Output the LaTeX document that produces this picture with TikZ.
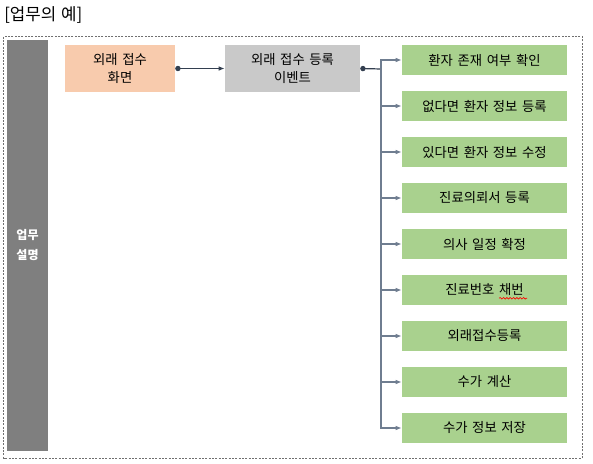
\documentclass[tikz,border=0pt]{standalone}
\usepackage{fontspec}
\setmainfont{Noto Sans CJK KR}
\usetikzlibrary{arrows.meta,decorations.pathmorphing}
\definecolor{peach}{HTML}{F8CBAD}
\definecolor{boxgray}{HTML}{C9C9C9}
\definecolor{boxgreen}{HTML}{A9D18E}
\definecolor{bargray}{HTML}{7F7F7F}
\definecolor{lineDark}{HTML}{333F50}
\definecolor{lineBranch}{HTML}{6F7D90}
\definecolor{frameGray}{HTML}{707070}
\newcommand\myboxfont{\fontsize{10pt}{13pt}\selectfont\spaceskip=3.5pt\relax}
\newcommand\mytitlefont{\fontsize{12.6pt}{14pt}\selectfont\spaceskip=3.6pt\relax}
\newcommand\mybarfont{\fontsize{9pt}{15pt}\selectfont\bfseries}
\begin{document}
\begin{tikzpicture}[x=0.75pt,y=-0.75pt,
  every node/.style={font=\myboxfont, text=black, inner sep=0pt},
  srcbox/.style={fill=peach, minimum width=82.5pt, minimum height=35.25pt, align=center},
  evbox/.style={fill=boxgray, minimum width=101.25pt, minimum height=35.25pt, align=center},
  taskbox/.style={fill=boxgreen, minimum width=123.75pt, minimum height=22.5pt},
  sidebar/.style={fill=bargray, minimum width=30.75pt, minimum height=308.25pt, align=center,
     font=\mybarfont, text=white},
  mainconn/.style={draw=lineDark, line width=0.9pt, {Circle[length=4pt]}-{Latex[length=4.5pt,width=3.5pt]}},
  trunk/.style={draw=lineDark, line width=0.9pt, {Circle[length=4pt]}-},
  branch/.style={draw=lineBranch, line width=0.9pt, -{Latex[length=4.5pt,width=3.5pt]}}
]
\useasboundingbox (0,0) rectangle (593,464);
\node[anchor=west, font=\mytitlefont] (title) at (4,15) {[업무의 예]};
\draw[frameGray, line width=0.6pt, dash pattern=on 1.5pt off 1pt] (3.5,36.5) rectangle (582,458);
\node[sidebar] (bar) at (27.5,245.5) {업무\\설명};
\node[srcbox] (src) at (120,68.5) {외래 접수\\화면};
\node[evbox] (ev) at (292.5,68.5) {외래 접수 등록\\이벤트};
\node[taskbox] (g1) at (484.5,60) {환자 존재 여부 확인};
\node[taskbox] (g2) at (484.5,106) {없다면 환자 정보 등록};
\node[taskbox] (g3) at (484.5,152) {있다면 환자 정보 수정};
\node[taskbox] (g4) at (484.5,198) {진료의뢰서 등록};
\node[taskbox] (g5) at (484.5,244) {의사 일정 확정};
\node[taskbox] (g6) at (484.5,290) {진료번호 채번};
\node[taskbox] (g7) at (484.5,336) {외래접수등록};
\node[taskbox] (g8) at (484.5,382) {수가 계산};
\node[taskbox] (g9) at (484.5,428) {수가 정보 저장};
\coordinate (j) at (381,69);
\draw[mainconn] (src.east) -- (ev.west);
\draw[trunk] (ev.east) -- (j);
\draw[draw=lineDark, line width=0.9pt] (381,60) -- (381,428);
\foreach \k in {1,...,9}{
  \draw[branch] (j) |- (g\k.west);
}
\draw[red, line width=0.5pt, decorate, decoration={snake, amplitude=0.6pt, segment length=2.5pt}]
  ([xshift=11pt,yshift=-6.2pt]g6.center) -- ([xshift=32pt,yshift=-6.2pt]g6.center);
\end{tikzpicture}
\end{document}
